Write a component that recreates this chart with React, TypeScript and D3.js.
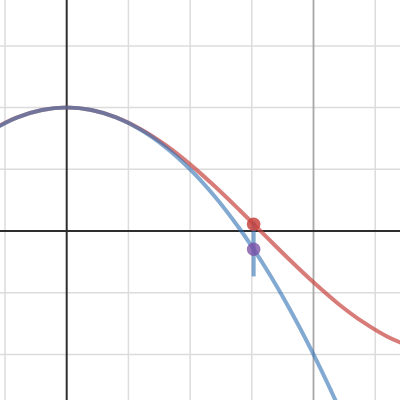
import React from "react";
import * as d3 from "d3";

const xGrid = [-0.5, 0, 0.5, 1, 1.5, 2, 2.5];
const yGrid = [-1, -0.5, 0, 0.5, 1, 1.5];
const markLineX = 2;

const redX = [-0.6, -0.4, -0.2, 0, 0.2, 0.4, 0.6, 0.8, 1.0, 1.2, 1.4, 1.6, 1.8, 2.0, 2.2, 2.4, 2.6, 2.8];
const redY = [0.825, 0.921, 0.98, 1, 0.98, 0.921, 0.825, 0.697, 0.54, 0.362, 0.17, -0.029, -0.227, -0.416, -0.589, -0.737, -0.857, -0.942];

const blueX = [-0.6, -0.4, -0.2, 0, 0.2, 0.4, 0.6, 0.8, 1.0, 1.2, 1.4, 1.6, 1.8, 2.0, 2.2, 2.4];
const blueY = [0.82, 0.92, 0.98, 1, 0.98, 0.92, 0.82, 0.68, 0.5, 0.28, 0.02, -0.28, -0.62, -1.0, -1.42, -1.88];

const pointX = 1.515;
const redPointY = 0.055;
const bluePointY = -0.148;
const boundLow = -0.368;
const boundHigh = 0.072;

const W = 400;
const H = 400;

export default function App() {
  const x = d3.scaleLinear().domain([-0.5405, 2.701]).range([0, W]);
  const y = d3.scaleLinear().domain([-1.3695, 1.872]).range([H, 0]);
  const line = d3
    .line<[number, number]>()
    .x((d) => x(d[0]))
    .y((d) => y(d[1]))
    .curve(d3.curveCatmullRom.alpha(0.5));
  const redPts = redX.map((v, i) => [v, redY[i]] as [number, number]);
  const bluePts = blueX.map((v, i) => [v, blueY[i]] as [number, number]);

  return (
    <svg
      width={W}
      height={H}
      style={{ position: "fixed", left: 0, top: 0, background: "#fff" }}
    >
      <defs>
        <clipPath id="clip">
          <rect x={0} y={0} width={W} height={H} />
        </clipPath>
      </defs>
      <rect x={0} y={0} width={W} height={H} fill="#fff" />
      <g clipPath="url(#clip)">
        {xGrid.filter((v) => v !== 0 && v !== markLineX).map((v) => (
          <line key={"gx" + v} x1={x(v)} x2={x(v)} y1={0} y2={H} stroke="#dcdcdc" strokeWidth={1.5} />
        ))}
        {yGrid.filter((v) => v !== 0).map((v) => (
          <line key={"gy" + v} x1={0} x2={W} y1={y(v)} y2={y(v)} stroke="#dcdcdc" strokeWidth={1.5} />
        ))}
        <line x1={x(markLineX)} x2={x(markLineX)} y1={0} y2={H} stroke="#a8a8a8" strokeWidth={1.8} />
        <line x1={x(0)} x2={x(0)} y1={0} y2={H} stroke="#2e2e2e" strokeWidth={2} />
        <line x1={0} x2={W} y1={y(0)} y2={y(0)} stroke="#2e2e2e" strokeWidth={2} />
        <path d={line(redPts) || ""} fill="none" stroke="#c74440" strokeOpacity={0.7} strokeWidth={4} />
        <path d={line(bluePts) || ""} fill="none" stroke="#2d70b3" strokeOpacity={0.6} strokeWidth={4} />
        <line
          x1={x(pointX)}
          x2={x(pointX)}
          y1={y(boundLow)}
          y2={y(boundHigh)}
          stroke="#2d70b3"
          strokeOpacity={0.6}
          strokeWidth={4}
        />
        <circle cx={x(pointX)} cy={y(redPointY)} r={6.8} fill="#c74440" fillOpacity={0.85} />
        <circle cx={x(pointX)} cy={y(bluePointY)} r={6.8} fill="#7d52a8" fillOpacity={0.8} />
      </g>
    </svg>
  );
}
